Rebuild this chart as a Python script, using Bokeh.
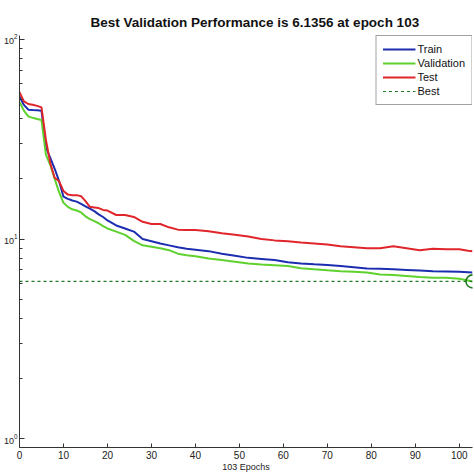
from bokeh.plotting import figure
from bokeh.models import Range1d, FixedTicker, Legend, LegendItem
from bokeh.embed import file_html
from bokeh.resources import INLINE

# Training record: mean squared error per epoch (sampled where the curves bend)
epochs = [0, 1, 2, 3, 4, 5, 6, 7, 8, 9, 10, 11, 12, 13, 14, 15, 16, 17, 18, 19, 20,
          22, 24, 26, 28, 30, 32, 34, 36, 38, 40, 43, 46, 49, 52, 55, 58, 61, 64,
          67, 70, 73, 76, 79, 82, 85, 88, 91, 94, 97, 100, 102, 103]

train_mse = [51.8, 47.0, 44.5, 44.3, 44.2, 44.0, 28.8, 25.5, 22.5, 19.5, 16.3, 15.9,
             15.6, 15.4, 15.0, 14.6, 14.2, 13.8, 13.3, 12.9, 12.4, 11.7, 11.3, 10.9,
             10.0, 9.75, 9.5, 9.3, 9.1, 8.95, 8.85, 8.7, 8.45, 8.25, 8.05, 7.95, 7.85,
             7.65, 7.55, 7.48, 7.42, 7.32, 7.22, 7.12, 7.1, 7.05, 7.0, 6.95, 6.9, 6.88,
             6.85, 6.82, 6.8]

validation_mse = [48.6, 44.0, 41.2, 40.5, 40.0, 39.5, 26.5, 23.5, 20.0, 17.2, 15.2, 14.5,
                  14.1, 13.9, 13.6, 13.0, 12.6, 12.3, 12.0, 11.6, 11.3, 10.9, 10.5, 9.8,
                  9.3, 9.15, 9.0, 8.8, 8.45, 8.3, 8.2, 8.0, 7.85, 7.7, 7.55, 7.45, 7.4,
                  7.32, 7.15, 7.05, 6.97, 6.9, 6.85, 6.8, 6.65, 6.6, 6.53, 6.45, 6.4, 6.4,
                  6.33, 6.2, 6.1356]

test_mse = [54.5, 49.0, 47.5, 47.1, 46.5, 45.7, 31.5, 24.0, 20.3, 19.5, 17.4, 16.7,
            16.6, 16.6, 16.4, 15.5, 14.5, 14.4, 14.3, 14.0, 13.9, 13.2, 13.2, 12.9,
            12.2, 11.9, 11.9, 11.45, 11.15, 11.1, 11.1, 10.95, 10.7, 10.5, 10.3, 10.0,
            9.85, 9.75, 9.6, 9.5, 9.4, 9.2, 9.1, 9.0, 9.0, 9.2, 9.0, 8.8, 8.95, 8.9,
            8.9, 8.75, 8.7]

best_epoch = 103
best_perf = 6.1356

x_ticks = [0, 10, 20, 30, 40, 50, 60, 70, 80, 90, 100]
y_ticks = [1, 10, 100]
y_minor = [2, 3, 4, 5, 6, 7, 8, 9, 20, 30, 40, 50, 60, 70, 80, 90]

FONT = "Liberation Sans"
AXIS_COLOR = "#333333"
TEXT_COLOR = "#222222"
BEST_COLOR = "#237a23"

p = figure(width=474, height=474, output_backend="svg", toolbar_location=None,
           y_axis_type="log", x_range=Range1d(0, 103), y_range=Range1d(0.903, 104.7),
           min_border_left=4, min_border_right=2, min_border_top=35,
           min_border_bottom=2,
           title="Best Validation Performance is 6.1356 at epoch 103")
p.outline_line_color = None
p.xgrid.grid_line_color = None
p.ygrid.grid_line_color = None
p.background_fill_color = "white"
p.border_fill_color = "white"

p.title.align = "left"
p.title.offset = 71
p.title.standoff = 11
p.title.text_font = FONT
p.title.text_font_size = "13.5px"
p.title.text_font_style = "bold"
p.title.text_color = "#111111"

# bottom axis: inward ticks
xa = p.xaxis[0]
xa.ticker = FixedTicker(ticks=x_ticks)
xa.major_tick_in = 4
xa.major_tick_out = 0
xa.minor_tick_in = 0
xa.minor_tick_out = 0
xa.axis_line_color = AXIS_COLOR
xa.major_tick_line_color = AXIS_COLOR
xa.major_label_text_font = FONT
xa.major_label_text_font_size = "10px"
xa.major_label_text_color = TEXT_COLOR
xa.major_label_standoff = 3
xa.axis_label = "103 Epochs"
xa.axis_label_text_font = FONT
xa.axis_label_text_font_size = "9px"
xa.axis_label_text_font_style = "normal"
xa.axis_label_text_color = TEXT_COLOR
xa.axis_label_standoff = 0

# left axis: inward ticks, powers of ten
ya = p.yaxis[0]
ya.ticker = FixedTicker(ticks=y_ticks, minor_ticks=y_minor)
ya.major_tick_in = 5
ya.major_tick_out = 0
ya.minor_tick_in = 3
ya.minor_tick_out = 0
ya.axis_line_color = AXIS_COLOR
ya.major_tick_line_color = AXIS_COLOR
ya.minor_tick_line_color = AXIS_COLOR
ya.major_label_text_font = FONT
ya.major_label_text_font_size = "9px"
ya.major_label_text_color = TEXT_COLOR
ya.major_label_standoff = 2

# performance curves
r_train = p.line(epochs, train_mse, line_color="#1c2db0", line_width=2)
r_val = p.line(epochs, validation_mse, line_color="#5fd12e", line_width=2)
r_test = p.line(epochs, test_mse, line_color="#e0262b", line_width=2)
r_best = p.line([epochs[0], best_epoch], [best_perf, best_perf], line_color=BEST_COLOR,
                line_width=1.2, line_dash="3 3")
p.scatter([best_epoch], [best_perf], marker="circle", size=13, fill_color=None,
          line_color=BEST_COLOR, line_width=1.6)

legend = Legend(items=[
    LegendItem(label="Train", renderers=[r_train]),
    LegendItem(label="Validation", renderers=[r_val]),
    LegendItem(label="Test", renderers=[r_test]),
    LegendItem(label="Best", renderers=[r_best]),
], location="top_right", padding=6, spacing=0, margin=0,
    glyph_width=33, glyph_height=14, label_height=14, label_standoff=2,
    label_text_font=FONT, label_text_font_size="11px", label_text_color="#111111",
    border_line_color="#444444", border_line_width=1,
    background_fill_color="white", background_fill_alpha=1)
p.add_layout(legend)

open("out.html", "w").write(file_html(p, INLINE))
